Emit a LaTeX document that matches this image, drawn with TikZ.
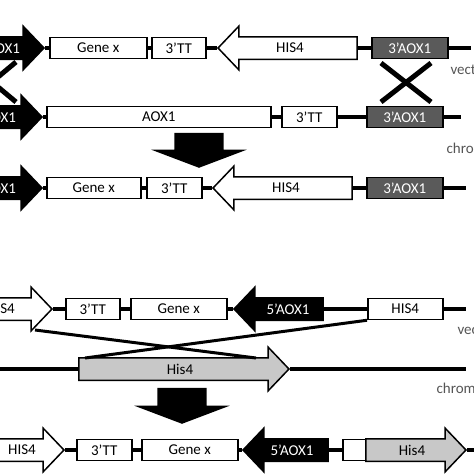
\documentclass[tikz,border=0pt]{standalone}
\usepackage{fontspec}
\setmainfont{Carlito}
\usetikzlibrary{shapes.arrows}

\definecolor{aoxgray}{RGB}{90,90,90}
\definecolor{hisgray}{RGB}{200,200,200}
\definecolor{tagtext}{RGB}{85,85,85}

\tikzset{
  gene/.style={rectangle,draw=black,line width=1.5pt,fill=white,inner sep=0pt,
    minimum height=21pt,anchor=west,font=\fontsize{15}{15}\selectfont},
  genearrow/.style={single arrow,draw=black,line width=1.5pt,fill=white,
    inner xsep=0pt,inner ysep=5.5pt,text height=8pt,text depth=2pt,
    single arrow head extend=10.5pt,single arrow tip angle=92.7,anchor=tip},
  promoter/.style={genearrow,fill=black},
  arrowtext/.style={inner sep=0pt,font=\fontsize{15}{15}\selectfont},
  backbone/.style={line width=4pt},
  crossover/.style={line width=5pt},
  recomb/.style={line width=3pt},
  rowname/.style={text=tagtext,anchor=west,font=\fontsize{15}{15}\selectfont},
  bigarrow/.style={single arrow,fill=black,rotate=-90,inner xsep=0pt,inner ysep=24.5pt,
    single arrow head extend=23pt,single arrow tip angle=138.5,anchor=tip}
}

\begin{document}
\begin{tikzpicture}[x=1pt,y=-1pt]
   \useasboundingbox (0,0) rectangle (474,474);
   \clip (0,0) rectangle (474,474);

    \node[promoter,minimum height=100pt] (p1) at (45,48) {};
    \node[arrowtext,text=white] (p1l) at (-1.5,48) {5'AOX1};
    \node[gene,minimum width=97pt] (gx1) at (49,48) {Gene x};
    \node[gene,minimum width=54pt] (tt1) at (151,48) {3'TT};
    \node[genearrow,shape border rotate=180,minimum height=139pt] (h1) at (217,48) {};
    \node[arrowtext] (h1l) at (290,48) {HIS4};
    \node[gene,fill=aoxgray,text=white,minimum width=76pt] (a1) at (371,48) {3'AOX1};
    \coordinate (e1) at (471,48);
    \node[rowname] (vec1) at (447,70) {vector};

    \node[promoter,minimum height=100pt] (p2) at (43,117) {};
    \node[arrowtext,text=white] (p2l) at (-5.5,117) {5'AOX1};
    \node[gene,minimum width=224pt] (ao2) at (46,117) {AOX1};
    \node[gene,minimum width=55pt] (tt2) at (281,117) {3'TT};
    \node[gene,fill=aoxgray,text=white,minimum width=76pt] (a2) at (366,117) {3'AOX1};
    \coordinate (e2) at (461,117);
    \node[rowname] (chr1) at (443,148) {chromosome};

    \node[bigarrow,minimum height=35pt] (down1) at (199,168) {};

    \node[promoter,minimum height=100pt] (p3) at (43,188) {};
    \node[arrowtext,text=white] (p3l) at (-5.5,188) {5'AOX1};
    \node[gene,minimum width=94pt] (gx3) at (46,188) {Gene x};
    \node[gene,minimum width=55pt] (tt3) at (146,188) {3'TT};
    \node[genearrow,shape border rotate=180,minimum height=139pt] (h3) at (212,188) {};
    \node[arrowtext] (h3l) at (286,188) {HIS4};
    \node[gene,fill=aoxgray,text=white,minimum width=76pt] (a3) at (366,188) {3'AOX1};
    \coordinate (e3) at (466,188);

    \node[genearrow,minimum height=86pt] (h4) at (53,309) {};
    \node[arrowtext] (h4l) at (1,309) {HIS4};
    \node[gene,minimum width=54pt] (tt4) at (65,309) {3'TT};
    \node[gene,minimum width=96pt] (gx4) at (130,309) {Gene x};
    \node[promoter,shape border rotate=180,minimum height=89pt] (p4) at (233,309) {};
    \node[arrowtext,text=white] (p4l) at (288,309) {5'AOX1};
    \node[gene,minimum width=75pt] (hb4) at (367,309) {HIS4};
    \coordinate (e4) at (466,309);
    \node[rowname] (vec2) at (454,330) {vector};

    \coordinate (s5) at (-5,369);
    \node[genearrow,fill=hisgray,minimum height=210pt] (g5) at (290,369) {};
    \node[arrowtext] (g5l) at (180,369) {His4};
    \coordinate (e5) at (466,369);
    \node[rowname] (chr2) at (433,388) {chromosome};

    \node[bigarrow,minimum height=36pt] (down2) at (182,424) {};

    \node[genearrow,minimum height=68pt] (h6) at (65,450) {};
    \node[arrowtext] (h6l) at (22,450) {HIS4};
    \node[gene,minimum width=55pt] (tt6) at (76,450) {3'TT};
    \node[gene,minimum width=96pt] (gx6) at (141,450) {Gene x};
    \node[promoter,shape border rotate=180,minimum height=85pt] (p6) at (242,450) {};
    \node[arrowtext,text=white] (p6l) at (292,450) {5'AOX1};
    \node[gene,minimum width=25pt] (wb6) at (342,450) {};
    \node[genearrow,fill=hisgray,minimum height=100pt] (g6) at (467,450) {};
    \node[arrowtext] (g6l) at (412,450) {His4};
    \coordinate (e6) at (480,450);

   \begin{scope}[backbone]
    \draw (p1.tip) -- (gx1.west);
    \draw (gx1.east) -- (tt1.west);
    \draw (tt1.east) -- (h1.tip);
    \draw (h1.tail) -- (a1.west);
    \draw (a1.east) -- (e1);
    \draw (p2.tip) -- (ao2.west);
    \draw (ao2.east) -- (tt2.west);
    \draw (tt2.east) -- (a2.west);
    \draw (a2.east) -- (e2);
    \draw (p3.tip) -- (gx3.west);
    \draw (gx3.east) -- (tt3.west);
    \draw (tt3.east) -- (h3.tip);
    \draw (h3.tail) -- (a3.west);
    \draw (a3.east) -- (e3);
    \draw (h4.tip) -- (tt4.west);
    \draw (tt4.east) -- (gx4.west);
    \draw (gx4.east) -- (p4.tip);
    \draw (p4.tail) -- (hb4.west);
    \draw (hb4.east) -- (e4);
    \draw (s5) -- (g5.tail);
    \draw (g5.tip) -- (e5);
    \draw (h6.tip) -- (tt6.west);
    \draw (tt6.east) -- (gx6.west);
    \draw (gx6.east) -- (p6.tip);
    \draw (p6.tail) -- (wb6.west);
    \draw (g6.tip) -- (e6);
   \end{scope}

    \coordinate (xa1) at (381,63);
    \coordinate (xa2) at (431,63);
    \coordinate (xa3) at (381,102);
    \coordinate (xa4) at (431,102);
    \coordinate (xb1) at (-32,62);
    \coordinate (xb2) at (16,62);
    \coordinate (xb3) at (-32,102);
    \coordinate (xb4) at (16,102);
    \draw[crossover] (xa1) -- (xa4);
    \draw[crossover] (xa2) -- (xa3);
    \draw[crossover] (xb1) -- (xb4);
    \draw[crossover] (xb2) -- (xb3);

    \coordinate (rc1) at (35,330);
    \coordinate (rc2) at (256,358);
    \coordinate (rc3) at (85,358);
    \draw[recomb] (rc1) -- (rc2);
    \draw[recomb] (hb4.south west) -- (rc3);
\end{tikzpicture}
\end{document}
